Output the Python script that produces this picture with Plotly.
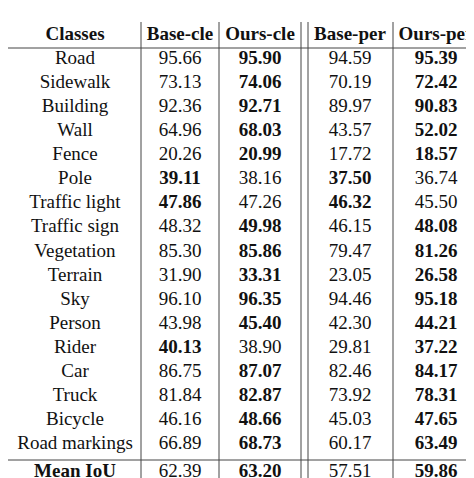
import plotly.graph_objects as go

# Table data
classes = ["Road", "Sidewalk", "Building", "Wall", "Fence", "Pole", "Traffic light",
           "Traffic sign", "Vegetation", "Terrain", "Sky", "Person", "Rider", "Car",
           "Truck", "Bicycle", "Road markings"]
base_cle = [95.66, 73.13, 92.36, 64.96, 20.26, 39.11, 47.86, 48.32, 85.30, 31.90,
            96.10, 43.98, 40.13, 86.75, 81.84, 46.16, 66.89]
ours_cle = [95.90, 74.06, 92.71, 68.03, 20.99, 38.16, 47.26, 49.98, 85.86, 33.31,
            96.35, 45.40, 38.90, 87.07, 82.87, 48.66, 68.73]
base_per = [94.59, 70.19, 89.97, 43.57, 17.72, 37.50, 46.32, 46.15, 79.47, 23.05,
            94.46, 42.30, 29.81, 82.46, 73.92, 45.03, 60.17]
ours_per = [95.39, 72.42, 90.83, 52.02, 18.57, 36.74, 45.50, 48.08, 81.26, 26.58,
            95.18, 44.21, 37.22, 84.17, 78.31, 47.65, 63.49]
mean_iou = [62.39, 63.20, 57.51, 59.86]
headers = ["Classes", "Base-cle", "Ours-cle", "Base-per", "Ours-per"]

W, H = 474, 478
col_x = [67, 172, 252, 342, 428]
row_h = 24.1
y_head = 27
y_first = 51
y_mean = 464

fig = go.Figure()
font = dict(family="Times New Roman, Liberation Serif, DejaVu Serif, serif", size=19, color="#111")

def add_text(x, y, labels, pos="middle center"):
    fig.add_trace(go.Scatter(x=x, y=y, mode="text", text=labels, textposition=pos,
                             textfont=font, hoverinfo="skip", showlegend=False,
                             cliponaxis=False))

add_text(col_x, [y_head] * 5, [f"<b>{h}</b>" for h in headers])

ys = [y_first + i * row_h for i in range(len(classes))]
add_text([col_x[0]] * len(classes), ys, classes)
for j, (a, b) in enumerate([(base_cle, ours_cle), (base_per, ours_per)]):
    la, lb = [], []
    for va, vb in zip(a, b):
        sa, sb = f"{va:.2f}", f"{vb:.2f}"
        if va > vb:
            sa = f"<b>{sa}</b>"
        else:
            sb = f"<b>{sb}</b>"
        la.append(sa)
        lb.append(sb)
    add_text([col_x[1 + 2 * j]] * len(ys), ys, la)
    add_text([col_x[2 + 2 * j]] * len(ys), ys, lb)

add_text(col_x, [y_mean] * 5,
         ["<b>Mean IoU</b>", f"{mean_iou[0]:.2f}", f"<b>{mean_iou[1]:.2f}</b>",
          f"{mean_iou[2]:.2f}", f"<b>{mean_iou[3]:.2f}</b>"])

add_text([-3], [7], ["and indicate the IoU."], pos="middle right")

line = dict(color="#444", width=1)
for x in [133, 211, 293, 300, 385]:
    fig.add_shape(type="line", x0=x, x1=x, y0=14, y1=H, line=line)
for y in [40, 452]:
    fig.add_shape(type="line", x0=0, x1=W, y0=y, y1=y, line=line)

fig.update_xaxes(range=[0, W], visible=False)
fig.update_yaxes(range=[H, 0], visible=False)
fig.update_layout(width=W, height=H, margin=dict(l=0, r=0, t=0, b=0),
                  plot_bgcolor="white", paper_bgcolor="white")
fig.write_html("out.html")
